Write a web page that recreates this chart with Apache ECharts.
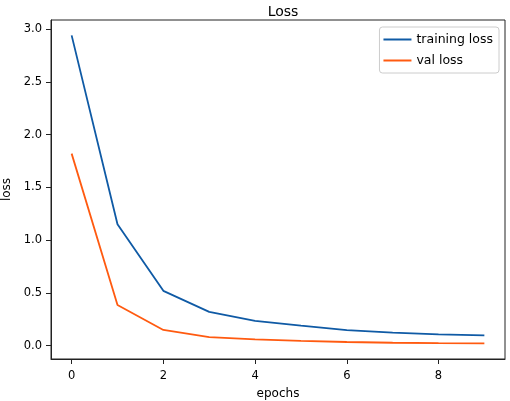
<!DOCTYPE html>
<html><head><meta charset="utf-8">
<script src="https://cdn.jsdelivr.net/npm/echarts@6/dist/echarts.min.js"></script>
<style>html,body{margin:0;padding:0;background:#fff}#c{width:510px;height:401px}</style>
</head><body><div id="c"></div>
<script>
const epochs = [0,1,2,3,4,5,6,7,8,9];
const trainingLoss = [2.94,1.15,0.52,0.32,0.236,0.19,0.148,0.123,0.107,0.097];
const valLoss = [1.82,0.385,0.149,0.082,0.06,0.046,0.035,0.028,0.024,0.022];
const xTicks = [0,2,4,6,8];
const yTicks = [0,0.5,1.0,1.5,2.0,2.5,3.0];

const font = 'DejaVu Sans';
const chart = echarts.init(document.getElementById('c'), null, {renderer:'canvas'});
chart.setOption({
  animation:false,
  backgroundColor:'#fff',
  title:{text:'Loss', left:278, top:0, textAlign:'center',
    textStyle:{fontFamily:font, fontSize:14, fontWeight:'normal', color:'#000'}},
  grid:{left:51, right:5, top:20, bottom:42, containLabel:false, outerBoundsMode:'none',
    show:true, borderColor:'#222', borderWidth:1},
  legend:{orient:'vertical', right:11, top:27, itemWidth:28, itemHeight:2, itemGap:8,
    borderColor:'#ccc', borderWidth:1, borderRadius:3, padding:[6,6,6,4],
    backgroundColor:'#fff',
    icon:'rect',
    textStyle:{fontFamily:font, fontSize:12.5, color:'#000'},
    data:['training loss','val loss']},
  xAxis:{type:'value', min:-0.45, max:9.45, name:'epochs', nameLocation:'middle', nameGap:29,
    nameTextStyle:{fontFamily:font, fontSize:12, color:'#000'},
    axisLine:{show:true, onZero:false, lineStyle:{color:'#222'}},
    axisTick:{show:true, customValues:xTicks, length:5, lineStyle:{color:'#222'}},
    axisLabel:{customValues:xTicks, fontFamily:font, fontSize:11.5, color:'#000', margin:11},
    splitLine:{show:false}},
  yAxis:{type:'value', min:-0.126, max:3.086, name:'loss', nameLocation:'middle', nameGap:31,
    nameTextStyle:{fontFamily:font, fontSize:12, color:'#000'},
    axisLine:{show:true, onZero:false, lineStyle:{color:'#222'}},
    axisTick:{show:true, customValues:yTicks, length:5, lineStyle:{color:'#222'}},
    axisLabel:{customValues:yTicks, fontFamily:font, fontSize:11.5, color:'#000', margin:9,
      formatter:v=>v.toFixed(1)},
    splitLine:{show:false}},
  series:[
    {name:'training loss', type:'line', showSymbol:false, symbol:'none',
      data:epochs.map((e,i)=>[e,trainingLoss[i]]),
      itemStyle:{color:'#0f5aa5'}, lineStyle:{color:'#0f5aa5', width:1.8}},
    {name:'val loss', type:'line', showSymbol:false, symbol:'none',
      data:epochs.map((e,i)=>[e,valLoss[i]]),
      itemStyle:{color:'#ff5a10'}, lineStyle:{color:'#ff5a10', width:1.8}}
  ]
});
</script></body></html>
